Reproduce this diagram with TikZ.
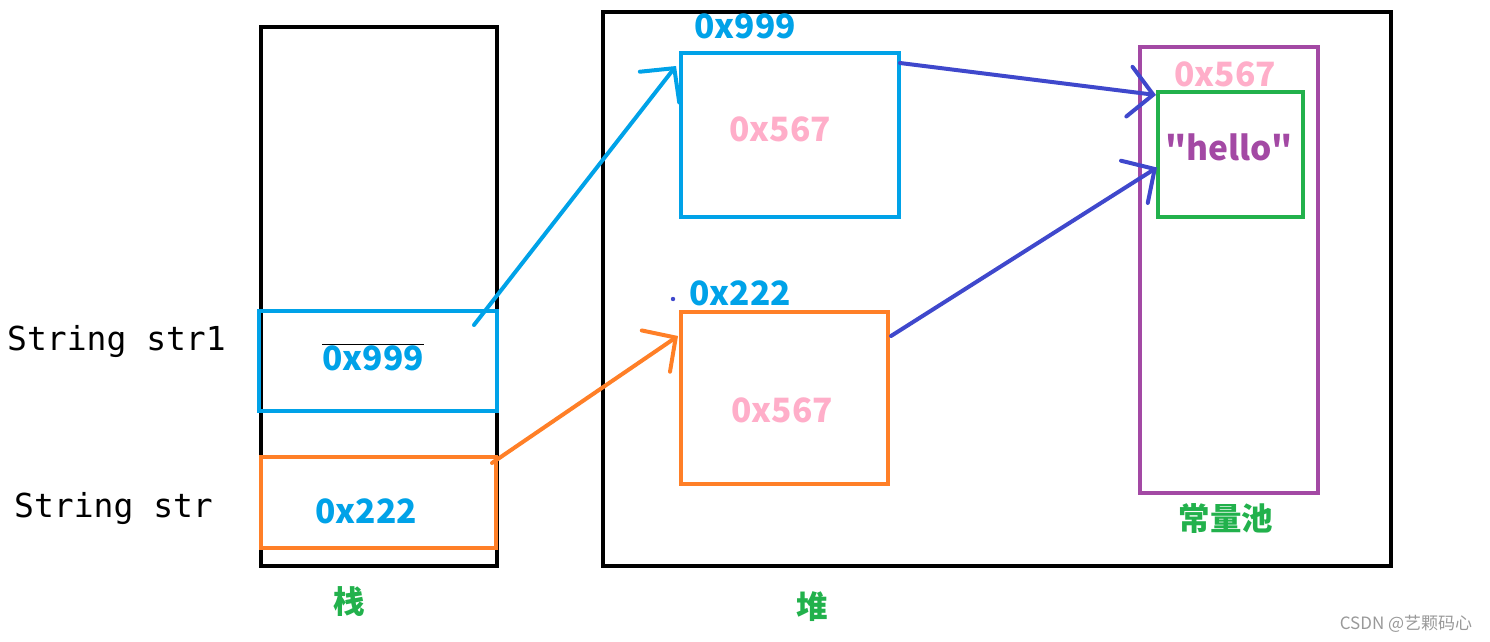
\documentclass[tikz,border=0pt]{standalone}
\usepackage{fontspec}
\usepackage{xcolor}
\usepackage{tikz}
\usetikzlibrary{arrows.meta, positioning, calc}
\newfontfamily\cjkfont{Noto Sans CJK SC}
\newfontfamily\codefont{DejaVu Sans Mono}
\definecolor{paintblue}{HTML}{00A2E8}
\definecolor{paintorange}{HTML}{FF7F27}
\definecolor{paintpink}{HTML}{FFAEC9}
\definecolor{paintpurple}{HTML}{A349A4}
\definecolor{paintgreen}{HTML}{22B14C}
\definecolor{paintindigo}{HTML}{3F48CC}

\begin{document}
\begin{tikzpicture}[
  x=1pt, y=-1pt,
  region/.style={
    draw=black, line width=4.5pt, inner sep=0pt
  },
  slot/.style={
    draw=#1, line width=4pt, inner sep=0pt
  },
  hexval/.style={
    font=\cjkfont\bfseries\fontsize{33.5}{36}\selectfont, text=#1, inner sep=0pt
  },
  areaname/.style={
    font=\cjkfont\bfseries\fontsize{31.5}{34}\selectfont, text=paintgreen, inner sep=0pt
  },
  varname/.style={
    font=\codefont\fontsize{33}{36}\selectfont, anchor=west, inner sep=0pt
  },
  pointer/.style={
    -{Straight Barb[length=24pt, width=50pt, line cap=round]},
    line width=4pt, line cap=round, color=#1
  }
]
\useasboundingbox (0,0) rectangle (1490,642);

% Stack
\node[region, minimum width=236pt, minimum height=539pt] (stack) at (379,296.5) {};
\node[slot=paintblue, minimum width=238pt, minimum height=100pt] (s1) at (378,361) {};
\node[slot=paintorange, minimum width=235pt, minimum height=91pt] (s0) at (378.5,502.5) {};
\node[hexval=paintblue] (s1val) at (373,358) {0x999};
\draw[line width=0.9pt] (322,344) -- (424,344);
\node[hexval=paintblue] (s0val) at (366,511) {0x222};
\node[varname] (v1) at (7,342) {String str1};
\node[varname] (v0) at (14,509) {String str};
\node[areaname] (stackname) at (349,602) {栈};

% Heap
\node[region, minimum width=788pt, minimum height=554pt] (heap) at (997,289) {};
\node[slot=paintblue, minimum width=218pt, minimum height=164pt] (h1) at (790,135) {};
\node[slot=paintorange, minimum width=207pt, minimum height=172pt] (h0) at (784.5,398) {};
\node[hexval=paintblue] (h1addr) at (745,26) {0x999};
\node[hexval=paintpink] (h1val) at (780,129) {0x567};
\node[hexval=paintblue] (h0addr) at (740,293) {0x222};
\fill[paintindigo] (673,299) circle (2.2);
\node[hexval=paintpink] (h0val) at (782,410) {0x567};
\node[areaname] (heapname) at (812,607) {堆};

% Constant pool
\node[slot=paintpurple, minimum width=178pt, minimum height=446pt] (pool) at (1229,270) {};
\node[slot=paintgreen, minimum width=145pt, minimum height=125pt] (hello) at (1230.5,154.5) {};
\node[hexval=paintpink] (pooladdr) at (1225,74) {0x567};
\node[hexval=paintpurple] (helloval) at (1229,147) {"hello"};
\node[areaname] (poolname) at (1226,519) {常量池};

% Connections
\coordinate (t1) at ($(s1.north east)+(-25,16)$);
\coordinate (t0) at ($(s0.north east)+(-6,8)$);
\draw[pointer=paintblue] (t1) -- ($(h1.north west)+(-3,15)$);
\draw[pointer=paintorange] (t0) -- ($(h0.north west)+(-1,26)$);
\draw[pointer=paintindigo] ($(h1.north east)+(-1,12)$) -- ($(hello.north west)+(0,5)$);
\draw[pointer=paintindigo] ($(h0.north east)+(1,26)$) -- ($(hello.west)+(1,13)$);

% Watermark
\node[font=\cjkfont\fontsize{17}{19}\selectfont, text=gray!80] (mark) at (1406,624) {CSDN @艺颗码心};

\end{tikzpicture}
\end{document}
